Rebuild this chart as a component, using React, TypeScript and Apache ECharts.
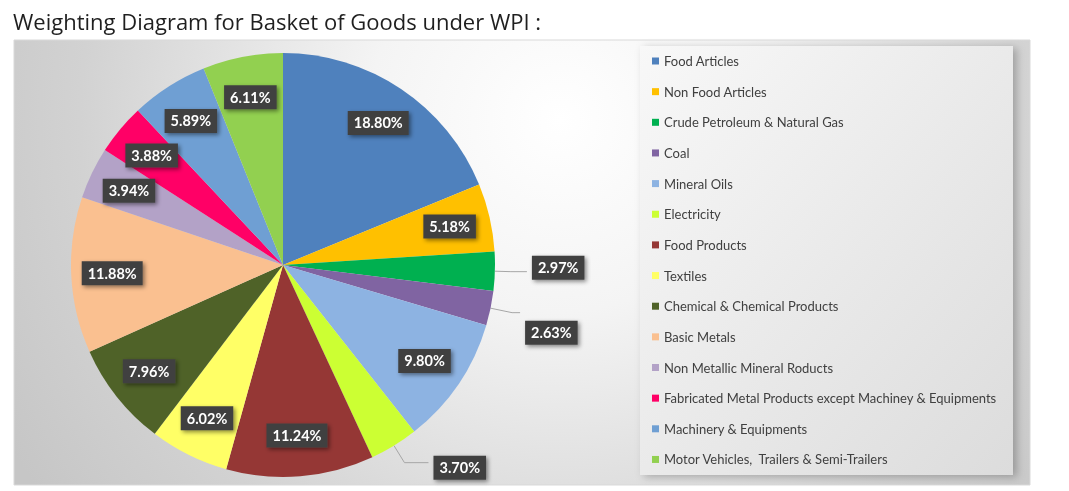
import React, { useEffect, useRef } from "react";
import * as echarts from "echarts";

const titleText = "Weighting Diagram for Basket of Goods under WPI :";

const categories = [
  "Food Articles",
  "Non Food Articles",
  "Crude Petroleum & Natural Gas",
  "Coal",
  "Mineral Oils",
  "Electricity",
  "Food Products",
  "Textiles",
  "Chemical & Chemical Products",
  "Basic Metals",
  "Non Metallic Mineral Roducts",
  "Fabricated Metal Products except Machiney & Equipments",
  "Machinery & Equipments",
  "Motor Vehicles,  Trailers & Semi-Trailers",
];

const weights = [18.8, 5.18, 2.97, 2.63, 9.8, 3.7, 11.24, 6.02, 7.96, 11.88, 3.94, 3.88, 5.89, 6.11];

const sliceColors = [
  "#4f81bd",
  "#ffc000",
  "#00b050",
  "#8064a2",
  "#8db3e2",
  "#ccff33",
  "#953735",
  "#ffff66",
  "#4f6228",
  "#fac090",
  "#b3a2c7",
  "#ff0066",
  "#6f9fd3",
  "#92d050",
];

const outsideLabelNames = ["Crude Petroleum & Natural Gas", "Coal", "Electricity"];

export default function App() {
  const ref = useRef<HTMLDivElement>(null);

  useEffect(() => {
    if (!ref.current) return;
    const chart = echarts.init(ref.current, undefined, { renderer: "svg" });

    const boxStyle = {
      backgroundColor: "#404040",
      color: "#ffffff",
      fontFamily: "Lato, 'Open Sans', sans-serif",
      fontWeight: "bold" as const,
      fontSize: 14.5,
      padding: [5, 6, 4, 6],
      shadowColor: "rgba(0,0,0,0.45)",
      shadowBlur: 4,
      shadowOffsetX: 2,
      shadowOffsetY: 2,
      formatter: (p: any) => `${Number(p.value).toFixed(2)}%`,
    };

    const leader: Record<string, { length: number; length2: number }> = {
      "Crude Petroleum & Natural Gas": { length: 16, length2: 16 },
      Coal: { length: 22, length2: 8 },
      Electricity: { length: 20, length2: 24 },
    };

    const mainData = categories.map((name, i) => {
      const outside = outsideLabelNames.includes(name);
      return {
        name,
        value: weights[i],
        itemStyle: { color: sliceColors[i] },
        label: outside ? { show: true, position: "outside", ...boxStyle } : { show: false },
        labelLine: outside
          ? { show: true, length: leader[name].length, length2: leader[name].length2, lineStyle: { color: "#a6a6a6", width: 1 } }
          : { show: false },
      };
    });

    const overlayData = categories.map((name, i) => ({
      name,
      value: weights[i],
      label: { show: !outsideLabelNames.includes(name) },
    }));

    chart.setOption({
      animation: false,
      title: {
        text: titleText,
        left: 8,
        top: 5,
        textStyle: {
          fontFamily: "'Open Sans', Lato, sans-serif",
          fontSize: 22,
          fontWeight: "normal",
          color: "#1f1f1f",
        },
      },
      graphic: {
        elements: [
          {
            type: "rect",
            z: -10,
            shape: { x: 14, y: 40, width: 1016, height: 445 },
            style: {
              fill: new echarts.graphic.RadialGradient(
                560,
                120,
                640,
                [
                  { offset: 0, color: "#ffffff" },
                  { offset: 0.3, color: "#f4f4f4" },
                  { offset: 0.75, color: "#d2d2d2" },
                  { offset: 1, color: "#c6c6c6" },
                ],
                true
              ),
              stroke: "#d9d9d9",
              lineWidth: 1,
            },
          },
          {
            type: "rect",
            z: -5,
            shape: { x: 640, y: 46, width: 373, height: 429 },
            style: {
              fill: new echarts.graphic.LinearGradient(0, 0, 1, 1, [
                { offset: 0, color: "#f8f8f8" },
                { offset: 1, color: "#dcdcdc" },
              ]),
              shadowColor: "rgba(0,0,0,0.25)",
              shadowBlur: 8,
              shadowOffsetX: 4,
              shadowOffsetY: 2,
            },
          },
        ],
      },
      legend: {
        orient: "vertical",
        left: 647,
        top: 49.5,
        icon: "rect",
        itemWidth: 7,
        itemHeight: 7,
        itemGap: 17.65,
        textStyle: {
          fontFamily: "Lato, 'Open Sans', sans-serif",
          fontSize: 13,
          color: "#404040",
        },
        data: categories,
        selectedMode: false,
      },
      series: [
        {
          type: "pie",
          center: [283, 265],
          radius: 212,
          startAngle: 90,
          clockwise: true,
          avoidLabelOverlap: false,
          silent: true,
          data: mainData,
          labelLayout: (params: any) => {
            if (params.dataIndex === 3) return { dy: 20 };
            if (params.dataIndex === 2) return { dy: -4 };
            if (params.dataIndex === 5) return { dy: 5 };
            return {};
          },
        },
        {
          type: "pie",
          center: [283, 265],
          radius: [124, 212],
          startAngle: 90,
          clockwise: true,
          avoidLabelOverlap: false,
          silent: true,
          itemStyle: { color: "rgba(0,0,0,0)" },
          label: { position: "inside", ...boxStyle },
          labelLine: { show: false },
          data: overlayData,
        },
      ],
    });

    return () => chart.dispose();
  }, []);

  return <div ref={ref} style={{ position: "fixed", left: 0, top: 0, width: 1069, height: 491 }} />;
}
